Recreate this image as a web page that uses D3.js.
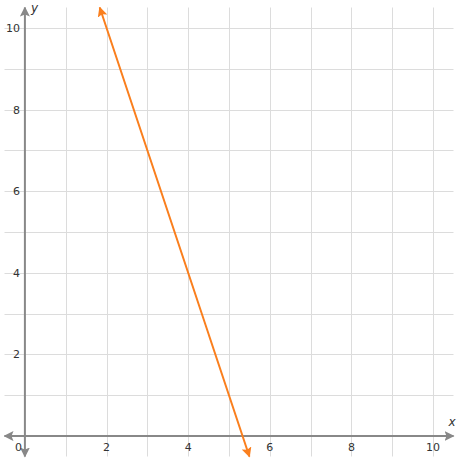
<!DOCTYPE html>
<html>
<head>
<meta charset="utf-8">
<script src="https://cdn.jsdelivr.net/npm/d3@7"></script>
<style>
  body { margin: 0; background: #fff; }
  text { font-family: "DejaVu Sans", Verdana, sans-serif; }
</style>
</head>
<body>
<div id="chart"></div>
<script>
const width = 467, height = 467;

// data
const xDomain = [-0.5, 10.5];
const yDomain = [-0.5, 10.5];
const gridValues = [1, 2, 3, 4, 5, 6, 7, 8, 9, 10];
const tickLabels = [2, 4, 6, 8, 10];
// line y = 16 - 3x, drawn between y = 10.5 and y = -0.5
const lineSlope = -3;
const lineIntercept = 16;
const lineYEnds = [10.5, -0.5];

const x = d3.scaleLinear().domain(xDomain).range([4.5, 453.5]);
const y = d3.scaleLinear().domain(yDomain).range([456.5, 7.5]);

const svg = d3.select("#chart").append("svg")
  .attr("width", width).attr("height", height);

const defs = svg.append("defs");
function arrow(id, color) {
  defs.append("marker")
    .attr("id", id)
    .attr("viewBox", "0 0 10 10")
    .attr("refX", 9).attr("refY", 5)
    .attr("markerWidth", 5).attr("markerHeight", 5)
    .attr("orient", "auto-start-reverse")
    .attr("markerUnits", "strokeWidth")
    .append("path")
    .attr("d", "M0,0 L10,5 L0,10 L2,5 Z")
    .attr("fill", color);
}
arrow("ax", "#888");
arrow("ln", "#fa7f1e");

// gridlines
svg.append("g")
  .attr("stroke", "#dcdcdc").attr("stroke-width", 1)
  .selectAll("line.v").data(gridValues).join("line")
  .attr("x1", d => Math.round(x(d)) + 0.5).attr("x2", d => Math.round(x(d)) + 0.5)
  .attr("y1", y(yDomain[1])).attr("y2", y(yDomain[0]));
svg.append("g")
  .attr("stroke", "#dcdcdc").attr("stroke-width", 1)
  .selectAll("line.h").data(gridValues).join("line")
  .attr("y1", d => Math.round(y(d)) + 0.5).attr("y2", d => Math.round(y(d)) + 0.5)
  .attr("x1", x(xDomain[0])).attr("x2", x(xDomain[1]));

// axes with arrows at both ends
svg.append("line")
  .attr("x1", x(xDomain[0])).attr("x2", x(xDomain[1]))
  .attr("y1", y(0)).attr("y2", y(0))
  .attr("stroke", "#888").attr("stroke-width", 2)
  .attr("marker-start", "url(#ax)").attr("marker-end", "url(#ax)");
svg.append("line")
  .attr("x1", x(0)).attr("x2", x(0))
  .attr("y1", y(yDomain[0])).attr("y2", y(yDomain[1]))
  .attr("stroke", "#888").attr("stroke-width", 2)
  .attr("marker-start", "url(#ax)").attr("marker-end", "url(#ax)");

// tick labels
svg.append("g").selectAll("text").data(tickLabels).join("text")
  .attr("x", d => x(d)).attr("y", y(0) + 15)
  .attr("text-anchor", "middle")
  .attr("font-size", 11).attr("fill", "#333")
  .text(d => d);
svg.append("g").selectAll("text").data(tickLabels).join("text")
  .attr("x", x(0) - 5).attr("y", d => y(d) + 4)
  .attr("text-anchor", "end")
  .attr("font-size", 11).attr("fill", "#333")
  .text(d => d);
svg.append("text")
  .attr("x", x(0) - 10).attr("y", y(0) + 15)
  .attr("font-size", 11).attr("fill", "#333")
  .text("0");

// axis names
svg.append("text")
  .attr("x", x(0) + 6).attr("y", y(yDomain[1]) + 4)
  .attr("font-size", 12).attr("font-style", "italic").attr("fill", "#333")
  .text("y");
svg.append("text")
  .attr("x", x(xDomain[1]) - 5).attr("y", y(0) - 10)
  .attr("font-size", 12).attr("font-style", "italic").attr("fill", "#333")
  .text("x");

// the line
const pts = lineYEnds.map(v => [(v - lineIntercept) / lineSlope, v]);
svg.append("line")
  .attr("x1", x(pts[0][0])).attr("y1", y(pts[0][1]))
  .attr("x2", x(pts[1][0])).attr("y2", y(pts[1][1]))
  .attr("stroke", "#fa7f1e").attr("stroke-width", 2)
  .attr("marker-start", "url(#ln)").attr("marker-end", "url(#ln)");
</script>
</body>
</html>
